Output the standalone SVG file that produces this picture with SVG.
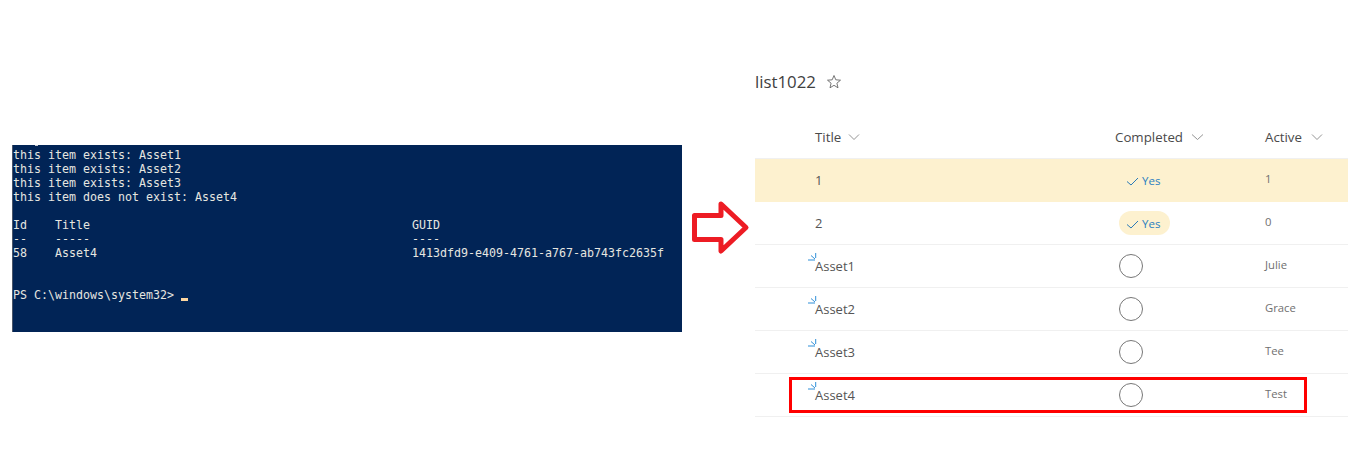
<svg xmlns="http://www.w3.org/2000/svg" width="1356" height="457" viewBox="0 0 1356 457">
<style>
.c{font:11.63px "DejaVu Sans Mono","Liberation Mono",monospace;fill:#e6e6e0;white-space:pre}
.t{font-family:"Open Sans","Noto Sans","Liberation Sans",sans-serif}
.h{font-size:13.3px;fill:#4a4a4a}
.r{font-size:13px;fill:#555}
.a{font-size:11.3px;fill:#707070}
.y{font-size:11.5px;fill:#2a7fc0}
.l{fill:none;stroke:#f0f0f0;stroke-width:1}
.chev{fill:none;stroke:#888;stroke-width:.9}
.chk{fill:none;stroke:#2a7ab8;stroke-width:1}
.o{fill:#fff;stroke:#777;stroke-width:1}
.sp{fill:none;stroke:#2f8fd8;stroke-width:1}
</style>
<defs><path id="spin" class="sp" d="M808 303h7M811 298.500l4 3.500M815.700 296v5"/></defs>
<rect width="1356" height="457" fill="#fff"/>
<g id="console">
<rect x="12" y="145" width="670" height="187" fill="#012456"/>
<rect x="12" y="145" width="1" height="187" fill="#4a5568"/>
<path d="M35 145.500h3" stroke="#c8ccd4" stroke-width="1"/>
<text class="c" x="13" y="159">this item exists: Asset1</text>
<text class="c" x="13" y="173">this item exists: Asset2</text>
<text class="c" x="13" y="187">this item exists: Asset3</text>
<text class="c" x="13" y="201">this item does not exist: Asset4</text>
<text class="c" x="13" y="229">Id</text><text class="c" x="55" y="229">Title</text><text class="c" x="412" y="229">GUID</text>
<text class="c" x="13" y="243">--</text><text class="c" x="55" y="243">-----</text><text class="c" x="412" y="243">----</text>
<text class="c" x="13" y="257">58</text><text class="c" x="55" y="257">Asset4</text><text class="c" x="412" y="257">1413dfd9-e409-4761-a767-ab743fc2635f</text>
<text class="c" x="13" y="299">PS C:\windows\system32&gt;</text>
<rect x="181" y="298" width="7" height="3" fill="#fdd6a0"/>
</g>
<g id="arrow">
<path d="M694.500 215.500H721V204L746 227.500L721 251V239.500H694.500Z" fill="#fff" stroke="#ed1c24" stroke-width="5" stroke-linejoin="round"/>
</g>
<g id="list">
<text class="t" x="755" y="88" font-size="16.800" fill="#404040">list1022</text>
<path d="M834 75.500l1.800 4.300 4.700.4-3.600 3 1.100 4.600-4-2.500-4 2.500 1.100-4.600-3.600-3 4.700-.4z" fill="none" stroke="#666" stroke-width=".9"/>
<text class="t h" x="815" y="142">Title</text><path class="chev" d="M849 134.500l5 5 5-5"/>
<text class="t h" x="1115" y="142">Completed</text><path class="chev" d="M1192 134.500l5.500 5 5.500-5"/>
<text class="t h" x="1265" y="142">Active</text><path class="chev" d="M1312 134.500l5 5 5-5"/>
<rect x="755" y="159" width="593" height="43" fill="#fdf1cf"/>
<path class="l" d="M755 158.500H1348M755 244.500H1348M755 287.500H1348M755 330.500H1348M755 373.500H1348M755 416.500H1348"/>
</g>
<g id="row1"><text class="t r" x="815" y="185">1</text><path class="chk" d="M1127 181.500l4 3.500 7-7"/><text class="t y" x="1142" y="185">Yes</text><text class="t a" x="1265" y="183">1</text></g>
<g id="row2"><text class="t r" x="815" y="228">2</text><rect x="1119" y="211" width="51" height="24" rx="12" fill="#fdf1cf"/><path class="chk" d="M1127 224.500l4 3.500 7-7"/><text class="t y" x="1142" y="228">Yes</text><text class="t a" x="1265" y="226">0</text></g>
<g id="row3"><use href="#spin" y="-43"/><text class="t r" x="815" y="271">Asset1</text><circle class="o" cx="1131" cy="266" r="11.500"/><text class="t a" x="1265" y="269">Julie</text></g>
<g id="row4"><use href="#spin"/><text class="t r" x="815" y="314">Asset2</text><circle class="o" cx="1131" cy="309" r="11.500"/><text class="t a" x="1265" y="312">Grace</text></g>
<g id="row5"><use href="#spin" y="43"/><text class="t r" x="815" y="357">Asset3</text><circle class="o" cx="1131" cy="352" r="11.500"/><text class="t a" x="1265" y="355">Tee</text></g>
<g id="row6"><use href="#spin" y="86"/><text class="t r" x="815" y="400">Asset4</text><circle class="o" cx="1131" cy="395" r="11.500"/><text class="t a" x="1265" y="398">Test</text></g>
<g id="connectors"><rect id="highlight" x="790.500" y="378.500" width="515" height="33" fill="none" stroke="#f00" stroke-width="3"/></g>
</svg>
